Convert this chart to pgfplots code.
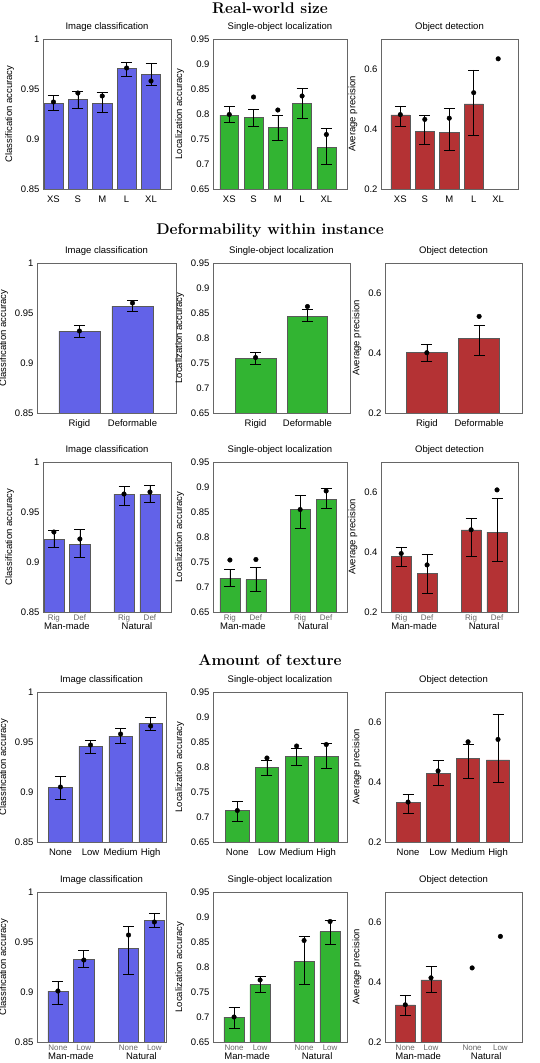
\documentclass[border=0pt]{standalone}
\usepackage{fontspec}
\setsansfont{Liberation Sans}
\usepackage{pgfplots}
\usepackage{pgfplotstable}
\pgfplotsset{compat=1.18}
\definecolor{cblue}{RGB}{98,98,232}
\definecolor{cgreen}{RGB}{50,180,50}
\definecolor{cred}{RGB}{180,50,52}

% columns: x, bar height, error plus, error minus, dot
\pgfplotstableread{
x y ep em d
1 0.936 0.008 0.007 0.937
2 0.940 0.008 0.009 0.946
3 0.936 0.011 0.009 0.943
4 0.971 0.006 0.008 0.971
5 0.965 0.011 0.011 0.958
}\tOneA
\pgfplotstableread{
x y ep em d
1 0.798 0.017 0.015 0.799
2 0.793 0.016 0.018 0.834
3 0.774 0.023 0.027 0.808
4 0.822 0.030 0.031 0.836
5 0.733 0.038 0.033 0.759
}\tOneB
\pgfplotstableread{
x y ep em d
1 0.447 0.030 0.038 0.448
2 0.392 0.054 0.042 0.432
3 0.388 0.080 0.058 0.436
4 0.484 0.113 0.106 0.521
5 nan 0 0 0.634
}\tOneC
\pgfplotstableread{
x y ep em d
1 0.932 0.006 0.006 0.932
2 0.957 0.006 0.005 0.960
}\tTwoA
\pgfplotstableread{
x y ep em d
1 0.760 0.012 0.012 0.761
2 0.844 0.013 0.011 0.863
}\tTwoB
\pgfplotstableread{
x y ep em d
1 0.401 0.029 0.028 0.401
2 0.450 0.044 0.057 0.522
}\tTwoC
\pgfplotstableread{
x y ep em d
1   0.923 0.009 0.008 0.930
2   0.918 0.015 0.013 0.923
3.7 0.968 0.008 0.011 0.968
4.7 0.968 0.009 0.008 0.970
}\tThreeA
\pgfplotstableread{
x y ep em d
1   0.718 0.017 0.016 0.754
2   0.715 0.024 0.024 0.755
3.7 0.855 0.029 0.038 0.855
4.7 0.875 0.023 0.018 0.892
}\tThreeB
\pgfplotstableread{
x y ep em d
1   0.385 0.032 0.032 0.395
2   0.330 0.061 0.066 0.357
3.7 0.474 0.037 0.087 0.474
4.7 0.466 0.112 0.098 0.607
}\tThreeC
\pgfplotstableread{
x y ep em d
1 0.905 0.011 0.012 0.905
2 0.946 0.006 0.007 0.947
3 0.956 0.008 0.007 0.958
4 0.969 0.006 0.007 0.966
}\tFourA
\pgfplotstableread{
x y ep em d
1 0.713 0.019 0.022 0.713
2 0.799 0.015 0.015 0.818
3 0.821 0.017 0.017 0.842
4 0.821 0.026 0.023 0.845
}\tFourB
\pgfplotstableread{
x y ep em d
1 0.333 0.027 0.037 0.333
2 0.430 0.042 0.041 0.437
3 0.479 0.047 0.068 0.534
4 0.474 0.153 0.074 0.542
}\tFourC
\pgfplotstableread{
x y ep em d
1    0.901 0.010 0.013 0.901
2    0.933 0.009 0.008 0.932
3.73 0.944 0.022 0.026 0.957
4.73 0.972 0.007 0.007 0.970
}\tFiveA
\pgfplotstableread{
x y ep em d
1    0.700 0.020 0.022 0.700
2    0.765 0.017 0.016 0.774
3.69 0.812 0.049 0.047 0.853
4.69 0.871 0.022 0.025 0.891
}\tFiveB
\pgfplotstableread{
x y ep em d
1   0.324 0.033 0.034 0.324
2   0.407 0.046 0.040 0.414
3.6 nan 0 0 0.447
4.7 nan 0 0 0.552
}\tFiveC

\newcommand\fs{\fontsize{9.5}{11}\sffamily}
\pgfplotsset{
  panel/.style={scale only axis, height=150pt, axis on top, anchor=north west,
    axis line style={black!60, line width=0.6pt},
    major tick length=0pt,
    font=\fs,
    ticklabel style={font=\fs},
    title style={font=\fs, yshift=-2pt},
    ylabel style={font=\fs},
  },
  plainx/.style={xticklabel style={yshift=-3pt}},
  cls/.style={panel, ymin=0.85, ymax=1, ytick={0.85,0.9,0.95,1},
    yticklabels={0.85,0.9,0.95,1}, ylabel={Classification accuracy},
    title={Image classification}},
  loc/.style={panel, ymin=0.65, ymax=0.95, ytick={0.65,0.7,0.75,0.8,0.85,0.9,0.95},
    yticklabels={0.65,0.7,0.75,0.8,0.85,0.9,0.95}, ylabel={Localization accuracy},
    title={Single-object localization}},
  det/.style={panel, ymin=0.2, ymax=0.7, ytick={0.2,0.4,0.6},
    yticklabels={0.2,0.4,0.6}, ylabel={Average precision},
    title={Object detection}},
  sub/.style={xticklabel style={font=\fontsize{8}{9}\sffamily, text=black!60, yshift=1pt},
    extra x tick style={xticklabel style={font=\fs, text=black, yshift=-8pt}}},
}
\newcommand\panelplot[2]{%
  \addplot[ybar, bar width=0.78, fill=#2, draw=black!65, line width=0.5pt,
    error bars/.cd, y dir=both, y explicit,
    error bar style={black, line width=0.6pt},
    error mark options={rotate=90, mark size=5.5pt, black, line width=0.6pt}]
    table[x=x, y=y, y error plus=ep, y error minus=em] {#1};
  \addplot[only marks, mark=*, mark size=2.3pt, black] table[x=x, y=d] {#1};
}

\begin{document}
\begin{tikzpicture}
\path[use as bounding box] (0pt,0pt) rectangle (540pt,-1063pt);

\node[font=\fontsize{15.5}{18}\selectfont\bfseries, anchor=base] at (270pt,-13pt) {Real-world size};
\node[font=\fontsize{15.5}{18}\selectfont\bfseries, anchor=base] at (270pt,-234pt) {Deformability within instance};
\node[font=\fontsize{15.5}{18}\selectfont\bfseries, anchor=base] at (270pt,-665pt) {Amount of texture};

% ---------- Row 1: real-world size
\begin{axis}[cls, plainx, at={(43pt,-39pt)}, width=128pt, xmin=0.57, xmax=5.82,
  xtick={1,2,3,4,5}, xticklabels={XS,S,M,L,XL}]
\panelplot{\tOneA}{cblue}
\end{axis}
\begin{axis}[loc, plainx, at={(213pt,-39pt)}, width=134pt, xmin=0.33, xmax=5.85,
  xtick={1,2,3,4,5}, xticklabels={XS,S,M,L,XL}]
\panelplot{\tOneB}{cgreen}
\end{axis}
\begin{axis}[det, plainx, at={(381pt,-39pt)}, width=137pt, xmin=0.21, xmax=5.81,
  xtick={1,2,3,4,5}, xticklabels={XS,S,M,L,XL}]
\panelplot{\tOneC}{cred}
\end{axis}

% ---------- Row 2: deformability
\begin{axis}[cls, plainx, at={(37pt,-263pt)}, width=139pt, xmin=0.2, xmax=2.82,
  xtick={1,2}, xticklabels={Rigid,Deformable}]
\panelplot{\tTwoA}{cblue}
\end{axis}
\begin{axis}[loc, plainx, at={(213pt,-263pt)}, width=137pt, xmin=0.18, xmax=2.82,
  xtick={1,2}, xticklabels={Rigid,Deformable}]
\panelplot{\tTwoB}{cgreen}
\end{axis}
\begin{axis}[det, plainx, at={(385pt,-263pt)}, width=137pt, xmin=0.2, xmax=2.82,
  xtick={1,2}, xticklabels={Rigid,Deformable}]
\panelplot{\tTwoC}{cred}
\end{axis}

% ---------- Row 3: deformability by man-made / natural
\begin{axis}[cls, sub, at={(43pt,-462pt)}, width=128pt, xmin=0.58, xmax=5.51,
  xtick={1,2,3.7,4.7}, xticklabels={Rig,Def,Rig,Def},
  extra x ticks={1.5,4.2}, extra x tick labels={Man-made,Natural}]
\panelplot{\tThreeA}{cblue}
\end{axis}
\begin{axis}[loc, sub, at={(213pt,-462pt)}, width=134pt, xmin=0.35, xmax=5.5,
  xtick={1,2,3.7,4.7}, xticklabels={Rig,Def,Rig,Def},
  extra x ticks={1.5,4.2}, extra x tick labels={Man-made,Natural}]
\panelplot{\tThreeB}{cgreen}
\end{axis}
\begin{axis}[det, sub, at={(381pt,-462pt)}, width=137pt, xmin=0.22, xmax=5.51,
  xtick={1,2,3.7,4.7}, xticklabels={Rig,Def,Rig,Def},
  extra x ticks={1.5,4.2}, extra x tick labels={Man-made,Natural}]
\panelplot{\tThreeC}{cred}
\end{axis}

% ---------- Row 4: amount of texture
\begin{axis}[cls, plainx, at={(37pt,-692pt)}, width=129pt, xmin=0.22, xmax=4.51,
  xtick={1,2,3,4}, xticklabels={None,Low,Medium,High}]
\panelplot{\tFourA}{cblue}
\end{axis}
\begin{axis}[loc, plainx, at={(213pt,-692pt)}, width=134pt, xmin=0.18, xmax=4.7,
  xtick={1,2,3,4}, xticklabels={None,Low,Medium,High}]
\panelplot{\tFourB}{cgreen}
\end{axis}
\begin{axis}[det, plainx, at={(385pt,-692pt)}, width=137pt, xmin=0.23, xmax=4.8,
  xtick={1,2,3,4}, xticklabels={None,Low,Medium,High}]
\panelplot{\tFourC}{cred}
\end{axis}

% ---------- Row 5: texture by man-made / natural
\begin{axis}[cls, sub, at={(37pt,-892pt)}, width=129pt, xmin=0.19, xmax=5.18,
  xtick={1,2,3.73,4.73}, xticklabels={None,Low,None,Low},
  extra x ticks={1.5,4.23}, extra x tick labels={Man-made,Natural}]
\panelplot{\tFiveA}{cblue}
\end{axis}
\begin{axis}[loc, sub, at={(213pt,-892pt)}, width=134pt, xmin=0.19, xmax=5.34,
  xtick={1,2,3.69,4.69}, xticklabels={None,Low,None,Low},
  extra x ticks={1.5,4.19}, extra x tick labels={Man-made,Natural}]
\panelplot{\tFiveB}{cgreen}
\end{axis}
\begin{axis}[det, sub, at={(385pt,-892pt)}, width=137pt, xmin=0.21, xmax=5.54,
  xtick={1,2,3.6,4.7}, xticklabels={None,Low,None,Low},
  extra x ticks={1.5,4.15}, extra x tick labels={Man-made,Natural}]
\panelplot{\tFiveC}{cred}
\end{axis}
\end{tikzpicture}
\end{document}
